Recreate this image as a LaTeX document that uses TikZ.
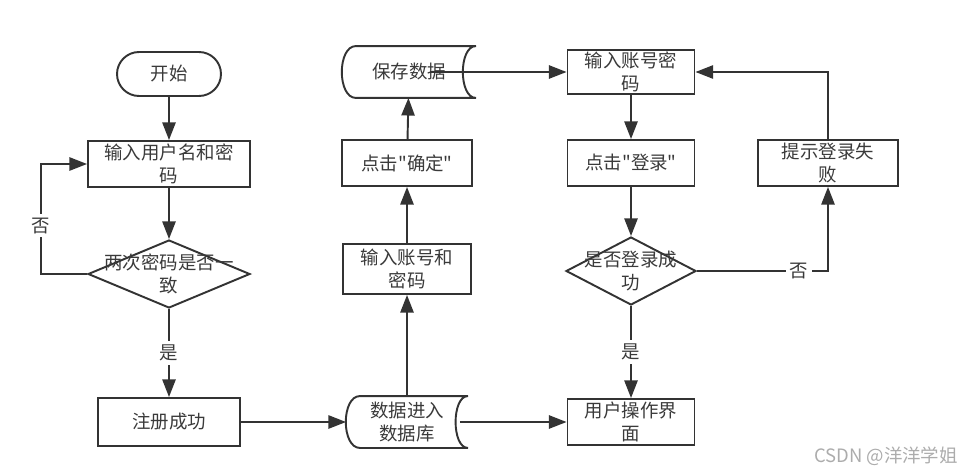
\documentclass[tikz,border=0pt]{standalone}
\usepackage{fontspec}
\setmainfont{Noto Sans CJK SC}[Ligatures=TeXOff]
\usepackage{tikz}
\usetikzlibrary{arrows.meta,shapes.geometric}
\definecolor{linecol}{HTML}{333333}
\definecolor{textcol}{HTML}{3A3A3A}

\begin{document}
\begin{tikzpicture}
	[x=0.02cm,y=-0.02cm,->,>={Triangle[length=10pt,width=7.5pt]},line width=1.1pt,color=linecol,
		font=\fontsize{10.5}{13}\selectfont,
		start node/.style={draw,rounded corners=0.44cm,minimum width=2.08cm,minimum height=0.88cm,text=textcol},
		proc node/.style={draw,rectangle,align=center,minimum height=0.92cm,inner sep=0pt,text=textcol},
		dec node/.style={draw,diamond,inner sep=0pt,minimum height=1.36cm},
		store node/.style={align=center,minimum height=1cm,inner sep=0pt,text=textcol},
		answer/.style={fill=white,inner sep=2pt,text=textcol}]

	\useasboundingbox (0,0) rectangle (969,473);

	% left column: register
	\node[start node] (start) at (169,74) {开始};
	\node[proc node,minimum width=3.24cm] (reguser) at (169,164) {输入用户名和密\\码};
	\node[dec node,minimum width=3.24cm,label={[text=textcol,align=center]center:两次密码是否一\\致}] (pwcheck) at (169,274) {};
	\node[proc node,minimum width=2.84cm,minimum height=0.96cm] (regok) at (169,422) {注册成功};

	% middle column: store
	\node[store node,minimum width=2.4cm] (dbase) at (407,422) {数据进入\\数据库};
	\node[proc node,minimum width=2.56cm,minimum height=1cm] (acctin) at (407,269) {输入账号和\\密码};
	\node[proc node,minimum width=2.6cm] (confirm) at (407,163) {点击"确定"};
	\node[store node,minimum width=2.64cm] (save) at (409,72) {保存数据};

	% right column: login
	\node[proc node,minimum width=2.54cm,minimum height=0.88cm] (login) at (631,72) {输入账号密\\码};
	\node[proc node,minimum width=2.54cm] (clicklogin) at (631,163) {点击"登录"};
	\node[dec node,minimum width=2.6cm,label={[text=textcol,align=center]center:是否登录成\\功}] (logcheck) at (631,271) {};
	\node[proc node,minimum width=2.54cm] (userui) at (631,422) {用户操作界\\面};
	\node[proc node,minimum width=2.8cm] (failmsg) at (828,163) {提示登录失\\败};

	\node[text=gray!65,font=\fontsize{10.5}{13}\selectfont] (mark) at (886,456) {CSDN @洋洋学姐};

	% stored data outlines
	\draw[-] ([xshift=0.28cm]save.north west) -- (save.north east)
		.. controls ([xshift=-0.35cm]save.north east) and ([xshift=-0.35cm]save.south east) .. (save.south east)
		-- ([xshift=0.28cm]save.south west)
		.. controls ([xshift=-0.1cm]save.south west) and ([xshift=-0.1cm]save.north west) .. cycle;
	\draw[-] ([xshift=0.28cm]dbase.north west) -- (dbase.north east)
		.. controls ([xshift=-0.33cm]dbase.north east) and ([xshift=-0.33cm]dbase.south east) .. (dbase.south east)
		-- ([xshift=0.28cm]dbase.south west)
		.. controls ([xshift=-0.1cm]dbase.south west) and ([xshift=-0.1cm]dbase.north west) .. cycle;

	\draw (start) -- (reguser);
	\draw (reguser) -- (pwcheck);
	\draw (pwcheck.west) -- ++(-46,0) |- node[answer,pos=0.22] {否} (reguser.west);
	\draw (pwcheck) -- node[answer] {是} (regok);
	\draw (regok) -- (dbase);
	\draw (dbase) -- (acctin);
	\draw (acctin) -- (confirm);
	\draw (confirm) -- (save);
	\draw ([xshift=0.42cm]save.center) -- (login);
	\draw ([xshift=-0.16cm]dbase.east) -- (userui);
	\draw (login) -- (clicklogin);
	\draw (clicklogin) -- (logcheck);
	\draw (logcheck) -- node[answer] {是} (userui);
	\draw (logcheck.east) -| node[answer,pos=0.39] {否} (failmsg.south);
	\draw (failmsg.north) |- (login.east);

\end{tikzpicture}
\end{document}
